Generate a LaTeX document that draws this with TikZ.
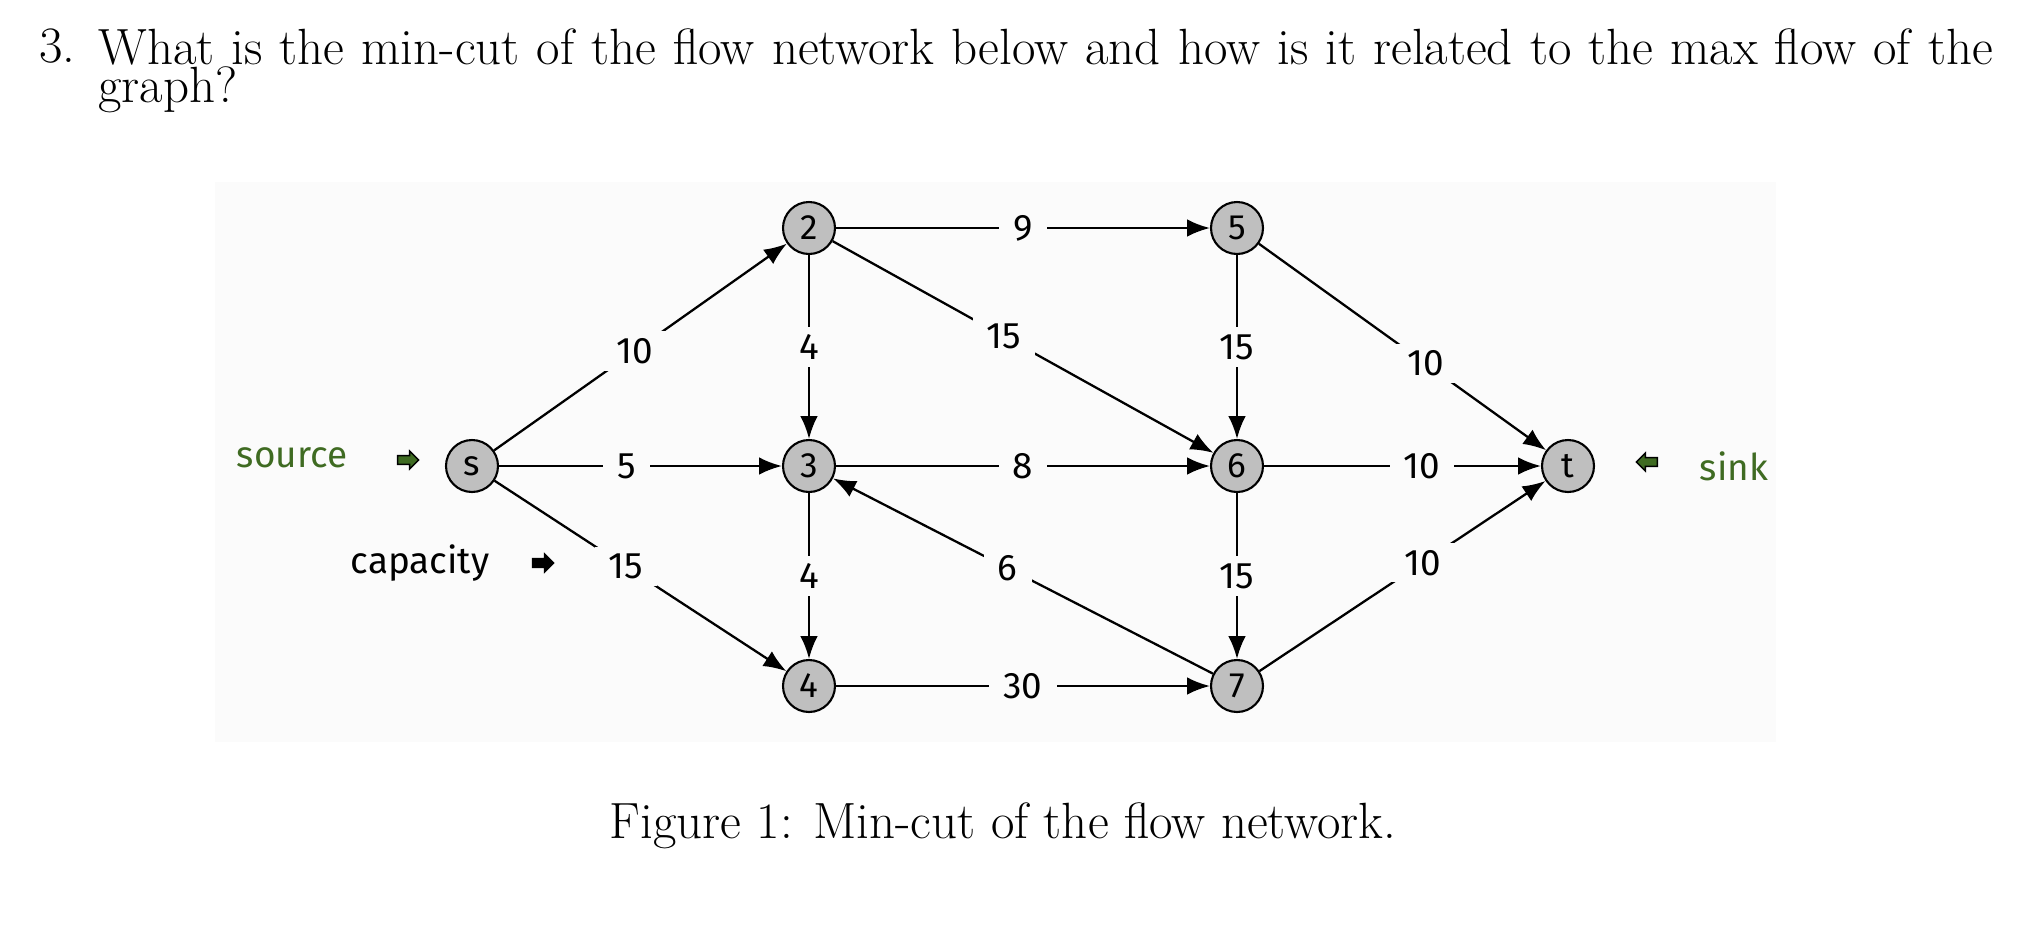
\documentclass[tikz,border=0pt]{standalone}
\usepackage{fontspec}
\newfontfamily\graphfont{Fira Sans}
\usetikzlibrary{arrows.meta,shapes.arrows}
\definecolor{srcgreen}{HTML}{3F6B22}
\definecolor{bgpanel}{HTML}{FBFBFB}
\begin{document}
\begin{tikzpicture}[x=0.02cm,y=-0.02cm,
  vert/.style={circle,draw=black,line width=1.2pt,fill=black!25,minimum size=1.04cm,inner sep=0pt,font=\graphfont\fontsize{20}{20}\selectfont},
  edge/.style={line width=1.3pt,-{Latex[length=13pt,width=10pt]}},
  caplab/.style={fill=bgpanel,inner xsep=8pt,inner ysep=4pt,font=\graphfont\fontsize{21}{21}\selectfont},
  tag/.style={font=\graphfont\fontsize{21}{21}\selectfont},
  blk/.style={single arrow,draw=black,line width=0.8pt,minimum height=0.42cm,single arrow head extend=2pt,inner sep=1.5pt,minimum width=0.36cm}]
\useasboundingbox (0,0) rectangle (2040,944);
\fill[bgpanel] (215,182) rectangle (1776,742);
% question
\node[anchor=north west,inner sep=0pt] (num) at (39,28) {\fontsize{29}{36}\selectfont 3.};
\node[anchor=north west,inner sep=0pt,text width=37.9cm,align=justify] (q) at (98,28)
  {\fontsize{29}{36}\selectfont What is the min-cut of the flow network below and how is it related to the max flow of the graph?};
% vertices
\node[vert] (s) at (472,466) {s};
\node[vert] (v2) at (809,228) {2};
\node[vert] (v3) at (809,466) {3};
\node[vert] (v4) at (809,686) {4};
\node[vert] (v5) at (1237,228) {5};
\node[vert] (v6) at (1237,466) {6};
\node[vert] (v7) at (1237,686) {7};
\node[vert] (t) at (1568,466) {t};
% edges
\draw[edge] (s) -- node[caplab,pos=0.48]{10} (v2);
\draw[edge] (s) -- node[caplab,pos=0.45]{5} (v3);
\draw[edge] (s) -- node[caplab,pos=0.45]{15} (v4);
\draw[edge] (v2) -- node[caplab,pos=0.5]{9} (v5);
\draw[edge] (v2) -- node[caplab,pos=0.5]{4} (v3);
\draw[edge] (v2) -- node[caplab,pos=0.45]{15} (v6);
\draw[edge] (v3) -- node[caplab,pos=0.5]{8} (v6);
\draw[edge] (v3) -- node[caplab,pos=0.5]{4} (v4);
\draw[edge] (v7) -- node[caplab,pos=0.54]{6} (v3);
\draw[edge] (v4) -- node[caplab,pos=0.5]{30} (v7);
\draw[edge] (v5) -- node[caplab,pos=0.5]{15} (v6);
\draw[edge] (v6) -- node[caplab,pos=0.5]{15} (v7);
\draw[edge] (v5) -- node[caplab,pos=0.58]{10} (t);
\draw[edge] (v6) -- node[caplab,pos=0.57]{10} (t);
\draw[edge] (v7) -- node[caplab,pos=0.57]{10} (t);
% tags
\node[tag,text=srcgreen] (src) at (292,458) {source};
\node[blk,fill=srcgreen] (srcar) at (406,460) {};
\node[tag] (capt) at (420,563) {capacity};
\node[blk,fill=black] (capar) at (541,563) {};
\node[tag,text=srcgreen] (snk) at (1734,466) {sink};
\node[blk,fill=srcgreen,shape border rotate=180] (snkar) at (1649,462) {};
% caption
\node[inner sep=0pt] (fig) at (1003,826) {\fontsize{29}{36}\selectfont Figure 1: Min-cut of the flow network.};
\end{tikzpicture}
\end{document}
